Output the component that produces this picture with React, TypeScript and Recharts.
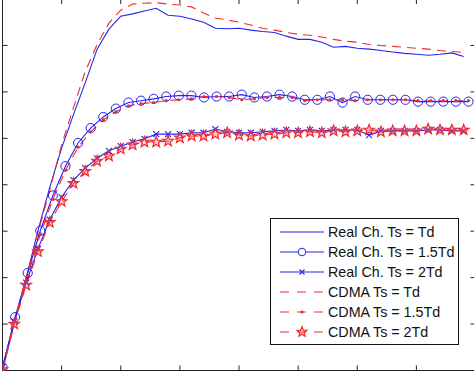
import React from "react";
import { LineChart, Line, XAxis, YAxis } from "recharts";

const BLUE = "#2424ee";
const RED = "#f02a2e";

// Ts = Td and Ts = 2Td are sampled on the main time axis (index 0..39)
const realTd = [
  0, 1.02, 1.99, 3.01, 3.95, 4.79, 5.51, 6.2, 6.92, 7.35, 7.63, 7.68, 7.74, 7.8,
  7.65, 7.63, 7.57, 7.5, 7.37, 7.36, 7.37, 7.33, 7.3, 7.28, 7.2, 7.13, 7.13,
  7.07, 6.96, 6.98, 6.94, 6.92, 6.89, 6.86, 6.83, 6.81, 6.79, 6.81, 6.84, 6.76,
];
const cdmaTd = [
  0, 1.06, 1.99, 2.97, 3.88, 4.86, 5.66, 6.44, 7.02, 7.48, 7.76, 7.89, 7.91,
  7.92, 7.89, 7.87, 7.83, 7.7, 7.59, 7.55, 7.5, 7.44, 7.37, 7.33, 7.28, 7.24,
  7.22, 7.18, 7.13, 7.09, 7.07, 7.02, 7.0, 6.98, 6.96, 6.94, 6.92, 6.89, 6.87,
  6.85,
];
const real2Td = [
  0.07, 1.06, 1.89, 2.62, 3.25, 3.73, 4.1, 4.36, 4.57, 4.73, 4.83, 4.92, 4.99,
  5.09, 5.09, 5.09, 5.12, 5.12, 5.2, 5.14, 5.12, 5.12, 5.14, 5.16, 5.18, 5.16,
  5.18, 5.16, 5.18, 5.18, 5.18, 5.07, 5.16, 5.16, 5.16, 5.16, 5.18, 5.18, 5.16,
  5.16,
];
const cdma2Td = [
  0.02, 1.0, 1.84, 2.56, 3.19, 3.64, 4.03, 4.29, 4.51, 4.62, 4.77, 4.86, 4.92,
  4.92, 4.94, 5.01, 5.05, 5.05, 5.09, 5.12, 5.07, 5.05, 5.07, 5.09, 5.12, 5.12,
  5.14, 5.12, 5.16, 5.14, 5.16, 5.18, 5.14, 5.16, 5.16, 5.16, 5.2, 5.18, 5.18,
  5.18,
];
// Ts = 1.5Td has its own sample grid (index 0..37)
const real15Td = [
  0.07, 1.15, 2.1, 3.01, 3.77, 4.4, 4.9, 5.22, 5.46, 5.64, 5.77, 5.81, 5.85,
  5.9, 5.92, 5.92, 5.88, 5.9, 5.9, 5.94, 5.88, 5.9, 5.94, 5.9, 5.83, 5.83, 5.9,
  5.77, 5.9, 5.83, 5.83, 5.83, 5.83, 5.79, 5.79, 5.79, 5.79, 5.79,
];
const cdma15Td = [
  0, 1.11, 2.04, 2.93, 3.69, 4.31, 4.81, 5.14, 5.4, 5.57, 5.7, 5.75, 5.77, 5.81,
  5.83, 5.85, 5.9, 5.9, 5.88, 5.83, 5.85, 5.88, 5.88, 5.88, 5.81, 5.83, 5.83,
  5.83, 5.81, 5.83, 5.83, 5.83, 5.83, 5.81, 5.81, 5.81, 5.81, 5.81,
];

const xTicks = [0, 5, 10, 15, 20, 25, 30, 35, 40];
const yTicks = [0, 1, 2, 3, 4, 5, 6, 7, 8];
const legendLabels = [
  "Real Ch. Ts = Td",
  "Real Ch. Ts = 1.5Td",
  "Real Ch. Ts = 2Td",
  "CDMA Ts = Td",
  "CDMA Ts = 1.5Td",
  "CDMA Ts = 2Td",
];

const toPoints = (vals: number[]) => vals.map((v, i) => ({ x: i, y: v }));

const starPath = (cx: number, cy: number, r: number) => {
  let d = "";
  for (let k = 0; k < 10; k++) {
    const rr = k % 2 === 0 ? r : r * 0.42;
    const a = -Math.PI / 2 + (k * Math.PI) / 5;
    d += (k === 0 ? "M" : "L") + (cx + rr * Math.cos(a)).toFixed(2) + "," + (cy + rr * Math.sin(a)).toFixed(2);
  }
  return d + "Z";
};

const CircleDot = (p: any) => (
  <circle key={`o${p.index}`} cx={p.cx} cy={p.cy} r={4.6} fill="none" stroke={BLUE} strokeWidth={1} />
);
const CrossDot = (p: any) => {
  const s = 3;
  return (
    <path
      key={`x${p.index}`}
      d={`M${p.cx - s},${p.cy - s}L${p.cx + s},${p.cy + s}M${p.cx - s},${p.cy + s}L${p.cx + s},${p.cy - s}`}
      stroke={BLUE}
      strokeWidth={1.1}
    />
  );
};
const PointDot = (p: any) => <circle key={`p${p.index}`} cx={p.cx} cy={p.cy} r={1.6} fill={RED} />;
const StarDot = (p: any) => (
  <path key={`s${p.index}`} d={starPath(p.cx, p.cy, 5.6)} fill="rgba(255,110,110,0.35)" stroke={RED} strokeWidth={1.2} />
);

// tick labels are cropped away in the original, only the inward tick marks remain
const NoLabel = () => <g />;

const LegendSample = ({ row }: { row: number }) => {
  const blue = row < 3;
  const color = blue ? BLUE : RED;
  return (
    <svg width={46} height={20} style={{ display: "block" }}>
      <line x1={1} y1={10} x2={45} y2={10} stroke={color} strokeWidth={1.1} strokeDasharray={blue ? undefined : "9 8"} />
      {row === 1 && <circle cx={23} cy={10} r={3.8} fill="white" stroke={BLUE} />}
      {row === 2 && <path d="M20.5,7.5L25.5,12.5M20.5,12.5L25.5,7.5" stroke={BLUE} strokeWidth={1.1} />}
      {row === 4 && <circle cx={23} cy={10} r={1.6} fill={RED} />}
      {row === 5 && <path d={starPath(23, 10, 5.2)} fill="rgba(255,110,110,0.35)" stroke={RED} strokeWidth={1.2} />}
    </svg>
  );
};

const axisStroke = "#222";

const App: React.FC = () => {
  return (
    <div style={{ position: "absolute", left: 0, top: 0, width: 474, height: 371, overflow: "hidden", background: "#fff" }}>
      <LineChart width={476} height={371} margin={{ top: -1, right: 0.5, bottom: 0.5, left: 2.5 }}>
        <XAxis type="number" dataKey="x" domain={[0, 40]} ticks={xTicks} allowDataOverflow
          height={1} mirror tick={NoLabel} tickSize={5} stroke={axisStroke} />
        <XAxis xAxisId="top" orientation="top" type="number" dataKey="x" domain={[0, 40]} ticks={xTicks}
          allowDataOverflow height={1} mirror tick={NoLabel} tickSize={5} axisLine={false} stroke={axisStroke} />
        <XAxis xAxisId="c" type="number" dataKey="x" domain={[0, 37.56]} allowDataOverflow hide />
        <YAxis type="number" dataKey="y" domain={[0, 8]} ticks={yTicks} allowDataOverflow
          width={1} mirror tick={NoLabel} tickSize={5} stroke={axisStroke} />
        <YAxis yAxisId="r" orientation="right" type="number" dataKey="y" domain={[0, 8]} ticks={yTicks}
          allowDataOverflow width={1} mirror tick={NoLabel} tickSize={5} axisLine={false} stroke={axisStroke} />

        <Line data={toPoints(realTd)} dataKey="y" type="linear" stroke={BLUE} strokeWidth={1.1}
          dot={false} activeDot={false} isAnimationActive={false} />
        <Line data={toPoints(real15Td)} xAxisId="c" dataKey="y" type="linear" stroke={BLUE} strokeWidth={1.1}
          dot={CircleDot} activeDot={false} isAnimationActive={false} />
        <Line data={toPoints(real2Td)} dataKey="y" type="linear" stroke={BLUE} strokeWidth={1.1}
          dot={CrossDot} activeDot={false} isAnimationActive={false} />
        <Line data={toPoints(cdmaTd)} dataKey="y" type="linear" stroke={RED} strokeWidth={1.1}
          strokeDasharray="9 6" dot={false} activeDot={false} isAnimationActive={false} />
        <Line data={toPoints(cdma15Td)} xAxisId="c" dataKey="y" type="linear" stroke={RED} strokeWidth={1.1}
          strokeDasharray="9 6" dot={PointDot} activeDot={false} isAnimationActive={false} />
        <Line data={toPoints(cdma2Td)} dataKey="y" type="linear" stroke={RED} strokeWidth={1.1}
          strokeDasharray="9 6" dot={StarDot} activeDot={false} isAnimationActive={false} />
      </LineChart>

      <div
        style={{
          position: "absolute",
          left: 270,
          top: 218,
          width: 187,
          height: 122,
          border: "1px solid #111",
          background: "#fff",
          boxSizing: "content-box",
          paddingTop: 3,
          fontFamily: "'Liberation Sans', Arial, sans-serif",
          fontSize: 14.3,
          color: "#111",
        }}
      >
        {legendLabels.map((label, i) => (
          <div key={label} style={{ display: "flex", alignItems: "center", height: 20 }}>
            <div style={{ width: 8 }} />
            <LegendSample row={i} />
            <span style={{ marginLeft: 3, whiteSpace: "nowrap" }}>{label}</span>
          </div>
        ))}
      </div>
    </div>
  );
};

export default App;
